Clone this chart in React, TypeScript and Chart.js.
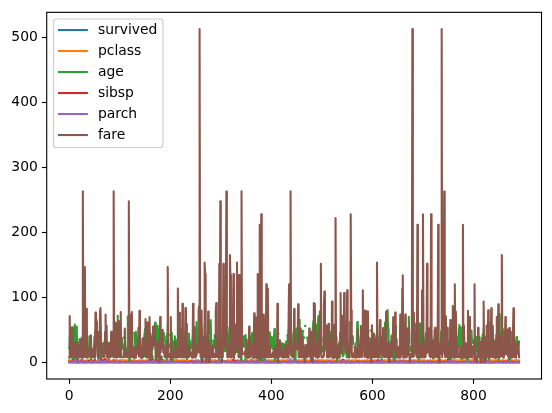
import React, { useEffect, useRef } from "react";
import { Chart, registerables } from "chart.js";
Chart.register(...registerables);

const seriesNames = ["survived", "pclass", "age", "sibsp", "parch", "fare"];
const seriesColors = ["#1f77b4", "#ff7f0e", "#2ca02c", "#d62728", "#9467bd", "#8c564b"];
const xTicks = [0, 200, 400, 600, 800];
const yTicks = [0, 100, 200, 300, 400, 500];

const survived = [
0,1,1,1,0,0,0,0,1,1,1,1,0,0,0,1,0,1,0,1,0,1,1,1,0,1,0,0,1,0,
0,1,1,0,0,0,1,0,0,1,0,0,0,1,1,0,0,1,0,0,0,0,1,1,0,1,1,0,0,0,
0,1,0,0,0,1,1,0,1,0,0,0,0,0,1,1,0,0,0,1,1,1,1,0,1,1,0,0,1,0,
0,0,0,0,0,0,0,1,1,0,0,0,0,0,0,0,0,1,1,0,0,0,0,0,0,0,0,0,0,0,
0,0,0,1,0,0,1,0,1,0,0,0,0,0,0,0,1,1,0,1,0,1,0,0,0,0,0,1,1,0,
0,1,0,0,0,0,1,0,0,0,0,0,0,1,0,1,1,0,0,0,0,0,0,0,0,1,0,0,1,0,
0,1,0,1,1,0,0,0,1,0,0,1,0,1,0,1,1,0,1,1,0,1,0,0,0,1,0,1,1,0,
0,0,0,1,0,1,1,1,0,0,0,1,0,0,1,1,0,1,0,0,0,0,0,1,0,0,0,1,0,1,
0,0,0,1,0,1,0,1,1,0,0,0,0,0,0,0,1,1,1,1,0,0,1,0,0,0,0,0,1,1,
0,1,1,0,0,0,1,0,0,1,1,0,0,0,0,0,0,0,1,0,1,1,0,0,0,0,1,0,1,1,
1,1,0,1,1,1,1,1,1,1,1,1,1,0,0,1,1,1,1,1,0,0,1,1,1,1,0,1,0,1,
1,1,0,0,0,0,0,0,0,1,0,1,1,1,0,0,1,1,1,0,0,0,1,1,0,1,0,1,1,1,
0,0,0,0,1,0,1,0,1,1,1,1,0,0,1,0,0,1,0,0,1,1,1,1,1,0,1,1,1,1,
1,0,0,1,1,1,0,0,1,0,1,0,0,0,0,0,0,0,1,0,0,0,1,1,0,0,1,1,1,0,
0,0,0,0,0,1,1,1,1,1,1,1,1,0,0,0,1,0,0,0,1,0,1,1,0,1,1,1,1,0,
0,1,0,1,1,1,0,0,1,1,0,0,1,1,0,0,0,0,0,1,1,0,0,0,0,1,0,0,0,0,
0,0,1,0,1,0,0,0,1,0,0,0,0,0,0,0,0,0,0,1,0,1,0,0,1,1,1,0,1,0,
1,0,0,1,1,1,0,0,1,0,1,0,0,1,1,0,0,1,0,1,0,0,0,0,0,1,0,1,1,0,
1,0,0,1,1,1,1,0,1,0,0,1,0,1,0,0,1,0,1,1,0,0,1,0,0,0,0,0,0,0,
1,1,1,0,1,0,0,1,0,1,1,1,0,0,0,1,1,0,0,0,1,0,0,0,1,0,1,0,0,1,
1,1,0,0,0,1,0,1,1,1,0,0,1,0,0,1,0,0,0,1,0,0,0,0,1,1,1,0,0,0,
1,0,1,0,0,0,1,0,0,1,0,0,0,1,1,0,0,0,0,0,1,1,0,0,0,1,1,0,1,0,
0,1,0,0,0,0,0,0,0,1,0,1,1,1,0,0,0,0,0,1,1,0,1,0,0,0,0,0,0,1,
1,1,0,1,0,0,0,0,1,0,1,1,0,1,0,0,0,1,1,0,0,1,1,0,0,0,1,0,0,1,
1,0,0,0,1,1,0,0,1,0,1,0,0,1,0,0,0,1,0,0,0,1,0,1,0,1,0,0,0,0,
1,1,0,0,1,1,1,0,0,0,0,0,0,1,1,0,1,0,0,0,0,0,0,0,0,0,0,1,0,1,
1,1,0,0,0,0,0,0,1,1,0,1,0,0,0,1,0,1,0,0,1,0,1,0,1,0,0,0,0,1,
0,0,0,0,0,0,0,0,0,0,0,0,0,0,0,1,0,0,0,1,0,1,0,1,1,0,0,1,0,1,
0,0,1,1,0,0,0,0,0,0,0,0,0,1,0,0,1,1,0,0,0,0,0,0,1,0,0,1,0,0,
0,1,1,0,0,1,1,0,0,1,1,0,0,0,0,0,0,1,0,1,0
];

const pclass = [
3,1,3,1,3,3,1,3,3,2,3,1,3,3,3,2,3,2,3,3,2,2,3,1,3,3,3,1,3,3,
1,1,3,2,1,1,3,3,3,3,3,2,3,2,3,3,3,3,3,3,3,3,1,2,1,1,2,3,1,3,
3,1,1,3,1,3,2,3,3,3,2,3,2,3,3,3,3,3,2,3,3,3,3,1,2,3,3,3,1,3,
3,3,1,3,3,3,1,1,2,2,3,3,1,3,3,3,3,3,3,3,1,3,3,3,3,3,3,2,1,3,
2,3,2,2,1,3,3,3,3,3,3,3,3,1,2,2,1,1,3,1,3,3,3,3,3,2,3,3,2,2,
2,1,3,3,3,1,3,3,3,3,3,2,3,3,3,3,1,3,1,3,2,3,3,3,1,3,3,1,2,3,
3,2,3,2,2,1,3,1,3,3,2,2,3,2,1,1,3,3,3,2,3,3,3,3,3,2,3,3,3,1,
3,2,3,2,3,1,3,3,1,2,3,2,3,3,1,3,2,3,2,3,1,3,2,3,2,3,2,2,2,2,
3,3,2,3,3,1,3,2,1,2,3,3,1,3,3,3,1,1,1,2,3,3,1,1,3,2,3,3,1,1,
1,3,2,1,3,1,3,2,3,3,3,3,3,3,1,3,3,3,2,3,1,1,2,3,3,1,3,1,1,1,
3,3,1,2,3,1,1,1,2,1,1,1,2,3,2,3,2,2,1,1,3,3,2,2,3,1,3,2,3,1,
3,1,1,3,1,3,1,1,3,1,2,1,2,2,2,2,2,3,3,3,3,1,3,3,3,3,1,2,3,3,
3,2,3,3,3,3,1,3,3,1,1,3,3,1,3,1,3,1,3,3,1,3,3,1,3,2,3,2,3,2,
1,3,3,1,3,3,3,2,2,3,3,3,3,3,3,2,3,2,3,3,3,3,1,2,3,3,2,2,2,3,
3,3,3,3,3,3,2,2,3,3,1,3,2,3,1,1,3,2,1,2,2,3,3,2,3,1,2,1,3,1,
2,3,1,1,3,3,1,1,2,3,1,3,1,2,3,3,2,1,3,3,3,3,2,2,3,1,2,3,3,3,
3,2,3,3,1,3,1,1,3,3,3,3,1,1,3,3,1,3,1,3,3,3,3,3,1,1,2,1,3,3,
3,3,1,1,3,2,2,3,2,3,1,3,3,1,3,3,2,1,3,2,2,3,3,3,3,2,1,1,3,1,
1,3,3,2,1,1,2,2,3,2,1,2,3,3,3,1,1,1,1,3,3,3,2,3,3,3,3,3,3,3,
2,1,1,3,3,3,2,1,3,3,2,1,1,1,3,1,2,1,3,3,3,1,3,3,1,2,1,3,3,1,
2,3,1,3,1,3,3,1,2,1,3,3,3,3,3,2,3,2,2,2,3,1,3,3,3,3,2,1,3,3,
1,3,1,1,3,2,3,2,3,3,3,1,3,1,3,1,3,1,3,3,3,2,3,3,3,2,3,3,2,1,
1,3,1,3,3,2,2,3,3,1,2,1,2,2,2,3,3,3,3,1,3,1,3,3,1,2,3,3,3,1,
1,3,3,3,1,2,3,3,1,3,1,1,3,3,3,3,2,1,1,3,1,1,1,3,2,3,1,2,3,3,
2,3,2,2,1,3,2,3,2,3,1,3,2,2,2,3,3,1,3,3,1,1,1,3,3,1,3,2,1,3,
2,3,3,3,2,2,3,2,3,1,3,3,3,1,3,1,1,3,3,3,3,3,2,3,2,3,3,3,3,1,
3,1,1,3,3,3,3,3,3,1,3,1,3,1,3,2,1,3,3,3,2,2,1,3,3,3,2,3,2,1,
3,3,2,3,3,1,3,2,3,3,1,3,1,3,3,3,1,2,3,1,3,2,3,3,3,1,3,3,1,1,
3,2,1,3,3,3,3,3,2,1,3,3,3,1,2,3,1,1,3,3,3,2,1,3,2,2,2,1,3,3,
3,1,1,3,2,3,3,3,3,1,2,3,2,2,3,3,2,1,3,1,3
];

const age = [
22,38,26,35,35,null,54,2,27,14,4,58,20,39,14,55,2,null,31,null,35,34,15,28,8,38,null,19,null,null,
40,null,null,66,28,42,null,21,18,14,40,27,null,3,19,null,null,null,null,18,7,21,49,29,65,null,21,28.5,5,11,
22,38,45,4,null,null,29,19,17,26,32,16,21,26,32,25,null,null,0.83,30,22,29,null,28,17,33,16,null,23,24,
29,20,46,26,59,null,71,23,34,34,28,null,21,33,37,28,21,null,38,null,47,14.5,22,20,17,21,70.5,29,24,2,
21,null,32.5,32.5,54,12,null,24,null,45,33,20,47,29,25,23,19,37,16,24,null,22,24,19,18,19,27,9,36.5,42,
51,22,55.5,40.5,null,51,16,30,null,null,44,40,26,17,1,9,null,45,null,28,61,4,1,21,56,18,null,50,30,36,
null,null,9,1,4,null,null,45,40,36,32,19,19,3,44,58,null,42,null,24,28,null,34,45.5,18,2,32,26,16,40,
24,35,22,30,null,31,27,42,32,30,16,27,51,null,38,22,19,20.5,18,null,35,29,59,5,24,null,44,8,19,33,
null,null,29,22,30,44,25,24,37,54,null,29,62,30,41,29,null,30,35,50,null,3,52,40,null,36,16,25,58,35,
null,25,41,37,null,63,45,null,7,35,65,28,16,19,null,33,30,22,42,22,26,19,36,24,24,null,23.5,2,null,50,
null,null,19,null,null,0.92,null,17,30,30,24,18,26,28,43,26,24,54,31,40,22,27,30,22,null,36,61,36,31,16,
null,45.5,38,16,null,null,29,41,45,45,2,24,28,25,36,24,40,null,3,42,23,null,15,25,null,28,22,38,null,null,
40,29,45,35,null,30,60,null,null,24,25,18,19,22,3,null,22,27,20,19,42,1,32,35,null,18,1,36,null,17,
36,21,28,23,24,22,31,46,23,28,39,26,21,28,20,34,51,3,21,null,null,null,33,null,44,null,34,18,30,10,
null,21,29,28,18,null,28,19,null,32,28,null,42,17,50,14,21,24,64,31,45,20,25,28,null,4,13,34,5,52,
36,null,30,49,null,29,65,null,50,null,48,34,47,48,null,38,null,56,null,0.75,null,38,33,23,22,null,34,29,22,2,
9,null,50,63,25,null,35,58,30,9,null,21,55,71,21,null,54,null,25,24,17,21,null,37,16,18,33,null,28,26,
29,null,36,54,24,47,34,null,36,32,30,22,null,44,null,40.5,50,null,39,23,2,null,17,null,30,7,45,30,null,22,
36,9,11,32,50,64,19,null,33,8,17,27,null,22,22,62,48,null,39,36,null,40,28,null,null,24,19,29,null,32,
62,53,36,null,16,19,34,39,null,32,25,39,54,36,null,18,47,60,22,null,35,52,47,null,37,36,null,49,null,49,
24,null,null,44,35,36,30,27,22,40,39,null,null,null,35,24,34,26,4,26,27,42,20,21,21,61,57,21,26,null,
80,51,32,null,9,28,32,31,41,null,20,24,2,null,0.75,48,19,56,null,23,null,18,21,null,18,24,null,32,23,58,
50,40,47,36,20,32,25,null,43,null,40,31,70,31,null,18,24.5,18,43,36,null,27,20,14,60,25,14,19,18,15,
31,4,null,25,60,52,44,null,49,42,18,35,18,25,26,39,45,42,22,null,24,null,48,29,52,19,38,27,null,33,
6,17,34,50,27,20,30,null,25,25,29,11,null,23,23,28.5,48,35,null,null,null,36,21,24,31,70,16,30,19,31,
4,6,33,23,48,0.67,28,18,34,33,null,41,20,36,16,51,null,30.5,null,32,24,48,57,null,54,18,null,5,null,43,
13,17,29,null,25,25,18,8,1,46,null,16,null,null,25,39,49,31,30,30,34,31,11,0.42,27,31,39,18,39,33,
26,39,35,6,30.5,null,23,31,43,10,52,27,38,27,2,null,null,1,null,62,15,0.83,null,23,18,39,21,null,32,null,
20,16,30,34.5,17,42,null,35,28,null,4,74,9,16,44,18,45,51,24,null,41,21,48,null,24,42,27,31,null,4,
26,47,33,47,28,15,20,19,null,56,25,33,22,28,25,39,27,19,null,26,32
];

const sibsp = [
1,1,0,1,0,0,0,3,0,1,1,0,0,1,0,0,4,0,1,0,0,0,0,0,3,1,0,3,0,0,
0,1,0,0,1,1,1,0,2,1,1,1,0,1,0,0,1,0,1,2,1,4,0,1,0,0,0,0,0,1,
0,0,1,5,1,0,2,0,0,4,2,5,0,0,1,0,0,0,0,0,0,0,0,0,0,0,1,0,3,0,
0,0,1,0,1,0,0,0,0,1,0,1,0,0,0,0,0,0,0,0,1,1,0,0,0,0,0,0,0,0,
2,0,0,0,1,1,0,0,0,1,0,0,1,1,0,0,0,1,0,0,0,0,0,0,1,1,0,0,1,0,
0,0,1,0,0,0,0,0,0,8,0,0,0,0,4,0,0,0,1,0,0,1,4,0,0,0,0,0,0,0,
8,0,0,3,2,0,0,1,0,1,0,0,0,1,0,1,0,0,0,0,0,8,0,0,0,0,0,0,0,0,
0,0,0,0,1,1,1,1,1,0,0,0,0,0,1,0,0,0,0,0,1,0,0,0,0,0,0,1,0,0,
1,2,1,0,0,1,2,0,1,1,0,0,1,1,0,0,0,0,0,1,0,0,1,0,0,0,0,0,0,0,
0,0,0,0,0,0,0,0,4,0,1,0,0,0,0,0,0,0,0,0,0,1,0,0,0,0,0,1,0,0,
0,2,0,0,0,1,1,1,0,1,1,0,1,0,1,0,0,0,0,0,0,0,0,1,4,0,0,1,0,0,
2,0,0,0,1,2,0,0,0,0,0,3,0,0,0,0,0,0,0,0,0,1,0,1,0,0,0,0,0,0,
1,1,0,0,0,0,1,1,0,0,1,0,1,0,1,1,0,0,0,0,0,1,0,1,0,1,0,0,1,0,
1,0,0,0,0,0,0,1,0,0,0,1,0,0,0,0,0,0,0,0,0,0,1,0,0,0,1,0,0,1,
0,0,0,0,1,1,1,0,0,0,1,0,0,1,0,1,1,0,0,0,0,0,0,0,0,1,2,0,1,0,
1,0,1,1,0,0,0,0,0,0,0,0,0,0,0,0,0,0,0,0,0,0,1,0,0,0,0,0,0,3,
5,0,0,1,0,0,1,1,0,0,0,1,0,1,0,0,0,0,1,0,0,0,0,0,0,1,0,0,0,0,
0,0,0,1,0,0,0,1,0,0,0,0,0,0,0,1,0,1,0,0,0,0,0,0,0,0,1,0,0,0,
0,4,4,1,1,0,0,0,0,0,0,0,0,1,0,0,0,0,1,0,0,0,0,0,0,0,0,0,0,0,
0,2,1,0,0,0,1,1,0,0,0,1,1,0,0,1,0,1,0,0,0,1,0,0,0,0,0,0,0,1,
2,0,0,0,0,1,0,0,0,1,3,0,0,1,0,1,1,0,1,1,0,1,1,0,0,0,0,0,0,0,
0,0,0,0,1,0,0,0,1,0,0,0,0,0,2,1,0,0,0,0,0,0,1,0,0,1,0,0,0,1,
2,0,0,0,0,1,0,0,0,1,0,1,0,0,0,0,0,0,0,1,0,1,0,0,1,1,1,0,0,0,
1,0,0,0,0,0,0,0,1,0,1,1,0,0,0,0,0,0,0,0,1,0,0,0,0,0,1,0,0,0,
0,1,0,0,0,0,0,0,1,0,1,1,0,0,1,0,0,0,0,0,1,0,0,1,0,1,0,0,0,0,
4,0,0,0,1,0,0,0,0,0,0,0,0,1,0,0,0,0,0,0,0,0,0,0,0,0,0,0,0,1,
0,1,1,1,0,0,0,0,0,1,0,0,0,0,0,1,0,0,0,0,0,0,5,0,0,0,1,0,0,0,
0,0,0,1,0,0,0,0,0,0,1,0,0,5,0,0,0,1,1,0,0,0,0,0,0,0,0,0,0,0,
0,0,0,0,1,0,1,0,0,0,1,0,0,0,0,0,0,1,0,0,0,1,0,0,1,0,0,1,1,0,
1,1,0,1,0,0,0,0,0,1,0,0,0,0,0,0,0,0,1,0,0
];

const parch = [
0,0,0,0,0,0,0,1,2,0,1,0,0,5,0,0,1,0,0,0,0,0,0,0,1,5,0,2,0,0,
0,0,0,0,0,0,0,0,0,0,0,0,0,2,0,0,0,0,0,0,1,0,1,0,0,0,0,0,0,2,
0,0,0,2,2,1,0,0,0,2,0,2,0,0,0,0,0,0,2,0,0,0,0,0,0,0,0,0,2,0,
0,0,0,0,0,0,0,1,0,1,0,0,1,0,0,0,0,0,0,0,0,0,0,0,0,0,0,0,1,0,
0,0,0,0,0,0,0,0,0,1,0,0,0,0,0,0,1,1,0,0,0,0,0,0,2,1,0,0,0,0,
0,0,0,0,2,1,0,0,0,2,0,0,0,0,1,2,2,0,2,0,0,1,1,0,0,0,0,0,0,0,
2,0,0,2,1,2,0,0,0,0,0,0,0,0,2,0,0,0,0,0,0,2,0,0,0,0,0,0,0,0,
0,0,0,0,0,0,0,0,1,0,0,0,0,0,0,0,0,0,0,0,0,0,0,0,0,0,0,0,0,0,
0,0,0,0,0,2,0,0,0,0,0,1,0,0,0,0,0,2,0,2,0,0,1,0,0,0,0,0,1,1,
0,0,1,0,0,0,0,0,1,0,1,0,0,0,0,0,0,0,0,0,2,0,0,0,0,0,0,2,0,1,
0,0,0,0,0,2,2,0,0,0,0,2,2,0,0,0,0,0,1,0,0,0,0,0,1,0,0,0,0,0,
0,0,0,2,0,0,1,0,0,0,0,2,0,0,0,0,0,2,0,0,0,0,0,0,0,0,0,0,0,0,
4,0,0,0,1,0,0,0,0,0,0,2,0,0,0,0,0,1,0,0,0,0,0,0,0,2,0,0,0,2,
2,0,0,1,0,0,0,0,0,0,0,0,0,0,0,0,0,0,0,0,0,0,1,0,0,0,1,0,0,0,
0,0,0,0,1,1,0,0,0,0,0,0,0,1,0,2,1,0,5,0,0,0,0,0,0,2,2,0,2,0,
2,0,0,0,0,0,0,0,0,0,0,0,0,0,0,0,0,0,0,0,0,0,0,0,0,0,0,0,0,0,
2,0,0,0,1,0,2,0,0,0,0,0,0,0,0,0,0,0,0,0,0,0,0,0,0,0,0,0,0,0,
0,0,0,0,0,2,0,1,0,0,0,0,0,0,0,0,0,0,0,0,0,0,0,0,0,1,0,0,0,0,
2,2,2,1,0,0,0,0,0,0,2,0,0,0,0,0,0,0,1,0,0,0,0,0,0,0,0,0,0,0,
0,0,0,0,0,0,1,1,0,0,0,1,1,1,0,0,0,0,0,0,0,0,0,0,0,0,0,0,0,0,
1,0,0,0,0,0,0,0,0,1,0,0,0,0,0,0,2,2,0,1,0,0,0,0,0,0,0,0,0,0,
0,0,0,0,2,0,0,0,1,0,0,1,0,0,1,0,0,0,0,0,0,0,2,0,0,0,0,0,0,1,
0,0,0,0,0,1,0,0,0,0,1,0,0,0,0,0,0,0,0,1,0,1,0,0,1,1,1,0,0,0,
0,0,0,0,0,0,0,0,1,0,0,0,0,0,0,0,0,0,2,0,0,0,0,0,0,0,0,0,0,0,
0,0,0,0,0,0,0,0,0,0,1,1,0,0,0,0,0,0,0,0,0,0,0,0,0,0,0,0,0,0,
1,2,0,0,2,0,1,0,0,0,0,0,0,2,0,0,0,0,0,0,0,0,0,0,0,0,0,0,0,0,
0,0,0,0,0,0,0,0,2,0,0,0,0,0,0,0,0,0,0,0,0,0,2,0,0,0,0,0,0,0,
0,0,0,0,0,0,0,0,0,0,0,0,0,2,0,0,0,0,0,2,0,0,0,0,0,0,0,0,0,0,
0,0,0,0,0,0,0,0,0,0,0,0,0,0,0,0,1,0,0,0,0,0,0,0,0,0,0,0,0,0,
0,0,0,2,0,0,0,0,0,0,0,0,0,0,0,0,0,0,2,0,0
];

const fare = [
7.25,71.3,7.9,53.1,8.05,8.5,51.9,21.1,11.1,30.1,16.7,26.6,8.05,31.3,7.9,16,29.1,13,18,7.2,26,13,8,35.5,21.1,31.4,7.2,263,7.9,7.9,
27.7,146.5,7.75,10.5,82.2,52,7.2,8.05,18,11.2,9.5,21,7.9,41.6,7.9,8.05,15.5,7.75,21.7,17.8,39.7,7.8,76.7,26,62,35.5,10.5,7.2,27.75,46.9,
7.2,80,83.5,27.9,27.7,15.2,10.5,8.2,7.9,8.7,10.5,46.9,73.5,14.5,56.5,7.65,7.9,8.05,29,12.5,9,9.5,7.8,47.1,10.5,15.85,34.4,8.05,263,8.05,
8.05,7.9,61.2,20.6,7.25,8.05,34.7,63.4,23,26,7.9,7.9,77.3,8.7,7.9,7.9,7.65,7.8,7.9,24.15,52,14.5,8.05,9.8,14.5,7.9,7.75,21,247.5,31.3,
73.5,8.05,30.1,13,77.3,11.2,7.75,7.1,22.4,7,7.9,7.05,14.5,26,13,15,26.3,53.1,9.2,79.2,15.2,7.75,15.85,6.75,11.5,36.75,7.8,34.4,26,13,
12.5,66.6,8.05,14.5,7.3,61.4,7.7,8.05,8.7,69.55,16.1,15.75,7.8,8.7,39.7,20.5,55,27.9,25.9,56.5,33.5,29.1,11.1,7.9,30.7,7.9,25.5,28.7,13,0,
69.55,15.05,31.4,39,22,50,15.5,26.6,15.5,7.9,13,13,7.9,26,27.7,146.5,7.75,8.4,7.75,13,9.5,69.55,6.5,7.2,8.05,10.5,15.85,18.8,7.75,31,
7.05,21,7.25,13,7.75,113.3,7.9,27,76.3,10.5,8.05,13,8.05,7.9,90,9.35,10.5,7.25,13,25.5,83.5,7.8,13.5,31.4,10.5,7.55,26,26.25,10.5,12.3,
14.5,15.5,10.5,7.1,7.2,90,7.8,14.5,52.6,26,7.25,10.5,26.6,16.1,20.2,15.2,79.2,86.5,512.3,26,7.75,31.4,79.65,0,7.75,10.5,39.7,7.8,153.5,135.6,
31,0,19.5,29.7,7.75,78,7.75,0,29.1,20.25,7.75,7.9,9.5,8.05,26,8.7,9.5,7.9,13,7.75,78.85,91.1,12.9,8.85,7.9,27.7,7.2,151.55,30.5,247.5,
7.75,23.25,0,12.35,8.05,151.55,110.9,108.9,24,56.9,83.2,262.4,26,7.9,26.25,7.9,26,14,164.9,134.5,7.25,7.9,12.35,29,69.55,135.6,6.2,13,20.5,58,
23.25,28.5,153.5,18,133.65,7.9,66.6,134.5,8.05,35.5,26,263,13,13,13,13,13,16.1,15.9,8.7,9.2,35,7.2,17.8,7.2,9.5,55,13,7.9,7.9,
27.9,27.7,14.5,7.05,15.5,7.25,75.25,7.2,7.75,69.3,55.4,6.5,8.05,135.6,21.1,82.2,7.25,211.5,4,7.8,227.5,15.7,7.9,52,7.9,73.5,46.9,13,7.7,12,
120,7.8,7.9,113.3,16.7,7.8,7.9,26,10.5,12.65,7.9,8.05,9.8,15.85,8.7,21,7.75,18.75,7.8,25.5,7.9,6.9,90,0,7.9,8.05,32.5,13,13,24.15,
7.9,7.7,7.9,14.4,20.2,7.25,26,26,7.75,8.05,26.6,16.1,26,7.1,55.9,120,34.4,18.75,263,10.5,26.25,9.5,7.8,13,8.1,81.9,19.5,26.6,19.3,30.5,
27.75,20,27.75,89.1,8.05,7.9,26.6,51.9,10.5,7.75,26.6,8.05,38.5,13,8.05,7.05,0,26.6,7.7,19.3,7.25,8.7,27.75,13.8,9.8,52,21,7,7.5,12.3,
46.9,0,8.05,9.6,91.1,25.5,90,29.7,8.05,15.9,20,7.25,30.5,49.5,8.05,14.5,78.3,15.1,151.55,7.8,8.7,7.75,7.6,9.6,86.5,108.9,26,26.6,22.5,56.5,
7.75,8.05,26.3,59.4,7.5,34,10.5,24.15,26,7.9,93.5,7.9,7.2,58,7.2,7.75,10.5,221.8,7.9,11.5,26,7.2,7.2,22.4,8.7,26.25,26.6,106.4,14.5,49.5,
71,31.3,31.3,26,106.4,26,26,13.9,20.5,36.75,110.9,26,7.8,7.2,7.8,26.6,39.6,227.5,79.65,17.4,7.75,7.9,13.5,8.05,8.05,24.15,7.9,21.1,7.2,7.9,
10.5,51.5,26.4,7.75,8.05,14.5,13,55.9,14.5,7.9,30,110.9,26,40.1,8.7,79.65,15,79.2,8.05,8.05,7.1,78.3,7.25,7.75,26,24.15,33,0,7.2,56.9,
27,7.9,42.4,8.05,26.6,15.55,7.9,30.5,41.6,153.5,31.3,7.05,15.5,7.75,8.05,65,14.4,16.1,39,10.5,14.5,52.6,15.7,7.9,16.1,32.3,12.35,78,7.9,7.7,
30,7.05,30.5,0,27.9,13,7.9,26.25,39.7,16.1,7.9,69.3,27.9,56.5,19.3,76.7,7.9,35.5,7.55,7.55,7.9,23,8.4,7.8,6.75,73.5,7.9,15.5,13,113.3,
133.65,7.2,25.6,7.5,7.9,73.5,13,7.8,8.05,52,39,52,10.5,13,0,7.8,8.05,9.8,46.9,512.3,8.1,76.7,9.2,46.9,39,41.6,39.7,10.2,7.8,211.3,
57,13.4,56.5,7.2,26.6,13.5,8.05,7.7,110.9,7.65,227.5,26.3,14.5,7.7,7.9,26,13.5,26.3,151.55,15.2,49.5,26.6,52,9.5,13,7.65,227.5,10.5,15.5,7.8,
33,7.05,13,13,53.1,8.7,21,7.7,26,7.9,211.3,18.8,0,13,13,16.1,34.4,512.3,7.9,7.9,30,78.85,262.4,16.1,7.9,71,20.25,13,53.1,7.75,
23,12.5,9.5,7.9,65,14.5,7.8,11.5,8.05,86.5,14.5,7.1,7.2,120,7.8,78,39.6,7.75,24.15,8.4,9.5,7.9,10.5,7.2,23,7.75,7.75,12.5,7.7,211.3,
7.2,57,30,23.45,7.05,7.25,7.5,29.1,20.6,79.2,7.75,26,69.55,30.7,7.9,13,25.9,8.7,7.2,24.15,13,26.25,120,8.5,7,7.8,0,7.8,13,53.1,
7.9,24.15,10.5,31.3,8.05,0,7.9,37,6.45,27.9,93.5,8.7,0,12.5,39.7,6.95,56.5,37,7.75,80,14.5,18.75,7.2,7.9,8.3,83.2,8.7,8.05,56.5,29.7,
7.9,10.5,31,6.4,8.7,7.55,69.55,7.9,33,89.1,31.3,7.8,15.2,39.4,26,9.35,164.9,26.6,19.3,7.2,14.1,11.5,25.9,69.55,13,13,13.9,50.5,9.5,11.1,
7.9,52.6,5,9,24,7.2,9.8,7.9,7.9,83.2,26,7.9,10.5,10.5,7.05,29.1,13,30,23.45,30,7.75
];

const FONT = "DejaVu Sans";
const FS = 13.9;

export default function App() {
  const ref = useRef<HTMLCanvasElement>(null);
  useEffect(() => {
    const series = [survived, pclass, age, sibsp, parch, fare];
    const framePlugin = {
      id: "frameAndLegend",
      afterDatasetsDraw(chart: any) {
        const { ctx, chartArea } = chart;
        ctx.save();
        ctx.strokeStyle = "#000";
        ctx.lineWidth = 1.11;
        ctx.strokeRect(chartArea.left, chartArea.top, chartArea.right - chartArea.left, chartArea.bottom - chartArea.top);
        // legend
        ctx.font = `${FS}px "${FONT}"`;
        let maxW = 0;
        chart.data.datasets.forEach((d: any) => {
          maxW = Math.max(maxW, ctx.measureText(d.label).width);
        });
        const bx = chartArea.left + 6.8;
        const by = chartArea.top + 6.7;
        const rowH = 21;
        const bw = 5.56 + 27.8 + 11.1 + maxW + 5.56;
        const bh = 128.4;
        const r = 2.8;
        ctx.beginPath();
        ctx.moveTo(bx + r, by);
        ctx.lineTo(bx + bw - r, by);
        ctx.quadraticCurveTo(bx + bw, by, bx + bw, by + r);
        ctx.lineTo(bx + bw, by + bh - r);
        ctx.quadraticCurveTo(bx + bw, by + bh, bx + bw - r, by + bh);
        ctx.lineTo(bx + r, by + bh);
        ctx.quadraticCurveTo(bx, by + bh, bx, by + bh - r);
        ctx.lineTo(bx, by + r);
        ctx.quadraticCurveTo(bx, by, bx + r, by);
        ctx.closePath();
        ctx.fillStyle = "rgba(255,255,255,0.8)";
        ctx.fill();
        ctx.strokeStyle = "#cccccc";
        ctx.lineWidth = 1.1;
        ctx.stroke();
        chart.data.datasets.forEach((d: any, i: number) => {
          const cy = by + 11 + i * rowH;
          ctx.beginPath();
          ctx.moveTo(bx + 5.56, cy);
          ctx.lineTo(bx + 5.56 + 27.8, cy);
          ctx.strokeStyle = d.borderColor;
          ctx.lineWidth = 2.08;
          ctx.lineCap = "square";
          ctx.stroke();
          ctx.fillStyle = "#000";
          ctx.textBaseline = "middle";
          ctx.textAlign = "left";
          ctx.fillText(d.label, bx + 5.56 + 27.8 + 11.1, cy);
        });
        ctx.restore();
      },
    };
    const axisCommon = {
      type: "linear" as const,
      grid: { drawOnChartArea: false, drawTicks: true, tickLength: 4.86, tickWidth: 1.11, tickColor: "#000" },
      border: { display: false },
      ticks: { color: "#000", padding: 4.0, font: { family: FONT, size: FS }, maxRotation: 0, autoSkip: false },
    };
    const chart = new Chart(ref.current as HTMLCanvasElement, {
      type: "line",
      data: {
        datasets: series.map((arr, i) => ({
          label: seriesNames[i],
          data: arr.map((v, j) => ({ x: j, y: v })),
          borderColor: seriesColors[i],
          backgroundColor: seriesColors[i],
          borderWidth: 2.08,
          pointRadius: 0,
          pointHoverRadius: 0,
          tension: 0,
          fill: false,
          spanGaps: false,
          order: seriesNames.length - 1 - i,
          borderJoinStyle: "round",
          borderCapStyle: "square",
        })),
      },
      options: {
        animation: false,
        responsive: false,
        devicePixelRatio: 1,
        events: [],
        layout: { padding: { left: 0, top: 10.7, right: 10.5, bottom: 0 } },
        plugins: { legend: { display: false }, tooltip: { enabled: false } },
        scales: {
          x: {
            ...axisCommon,
            min: -44.5,
            max: 934.5,
            afterBuildTicks: (s: any) => { s.ticks = xTicks.map((v) => ({ value: v })); },
            afterFit: (s: any) => { s.height = 34; },
          },
          y: {
            ...axisCommon,
            min: -25.62,
            max: 537.95,
            afterBuildTicks: (s: any) => { s.ticks = yTicks.map((v) => ({ value: v })); },
            afterFit: (s: any) => { s.width = 46.7; },
          },
        },
      } as any,
      plugins: [framePlugin],
    });
    return () => chart.destroy();
  }, []);
  return (
    <div style={{ position: "absolute", left: 0, top: 0, width: 552, height: 413, background: "#fff" }}>
      <canvas ref={ref} width={552} height={413} style={{ display: "block" }} />
    </div>
  );
}
